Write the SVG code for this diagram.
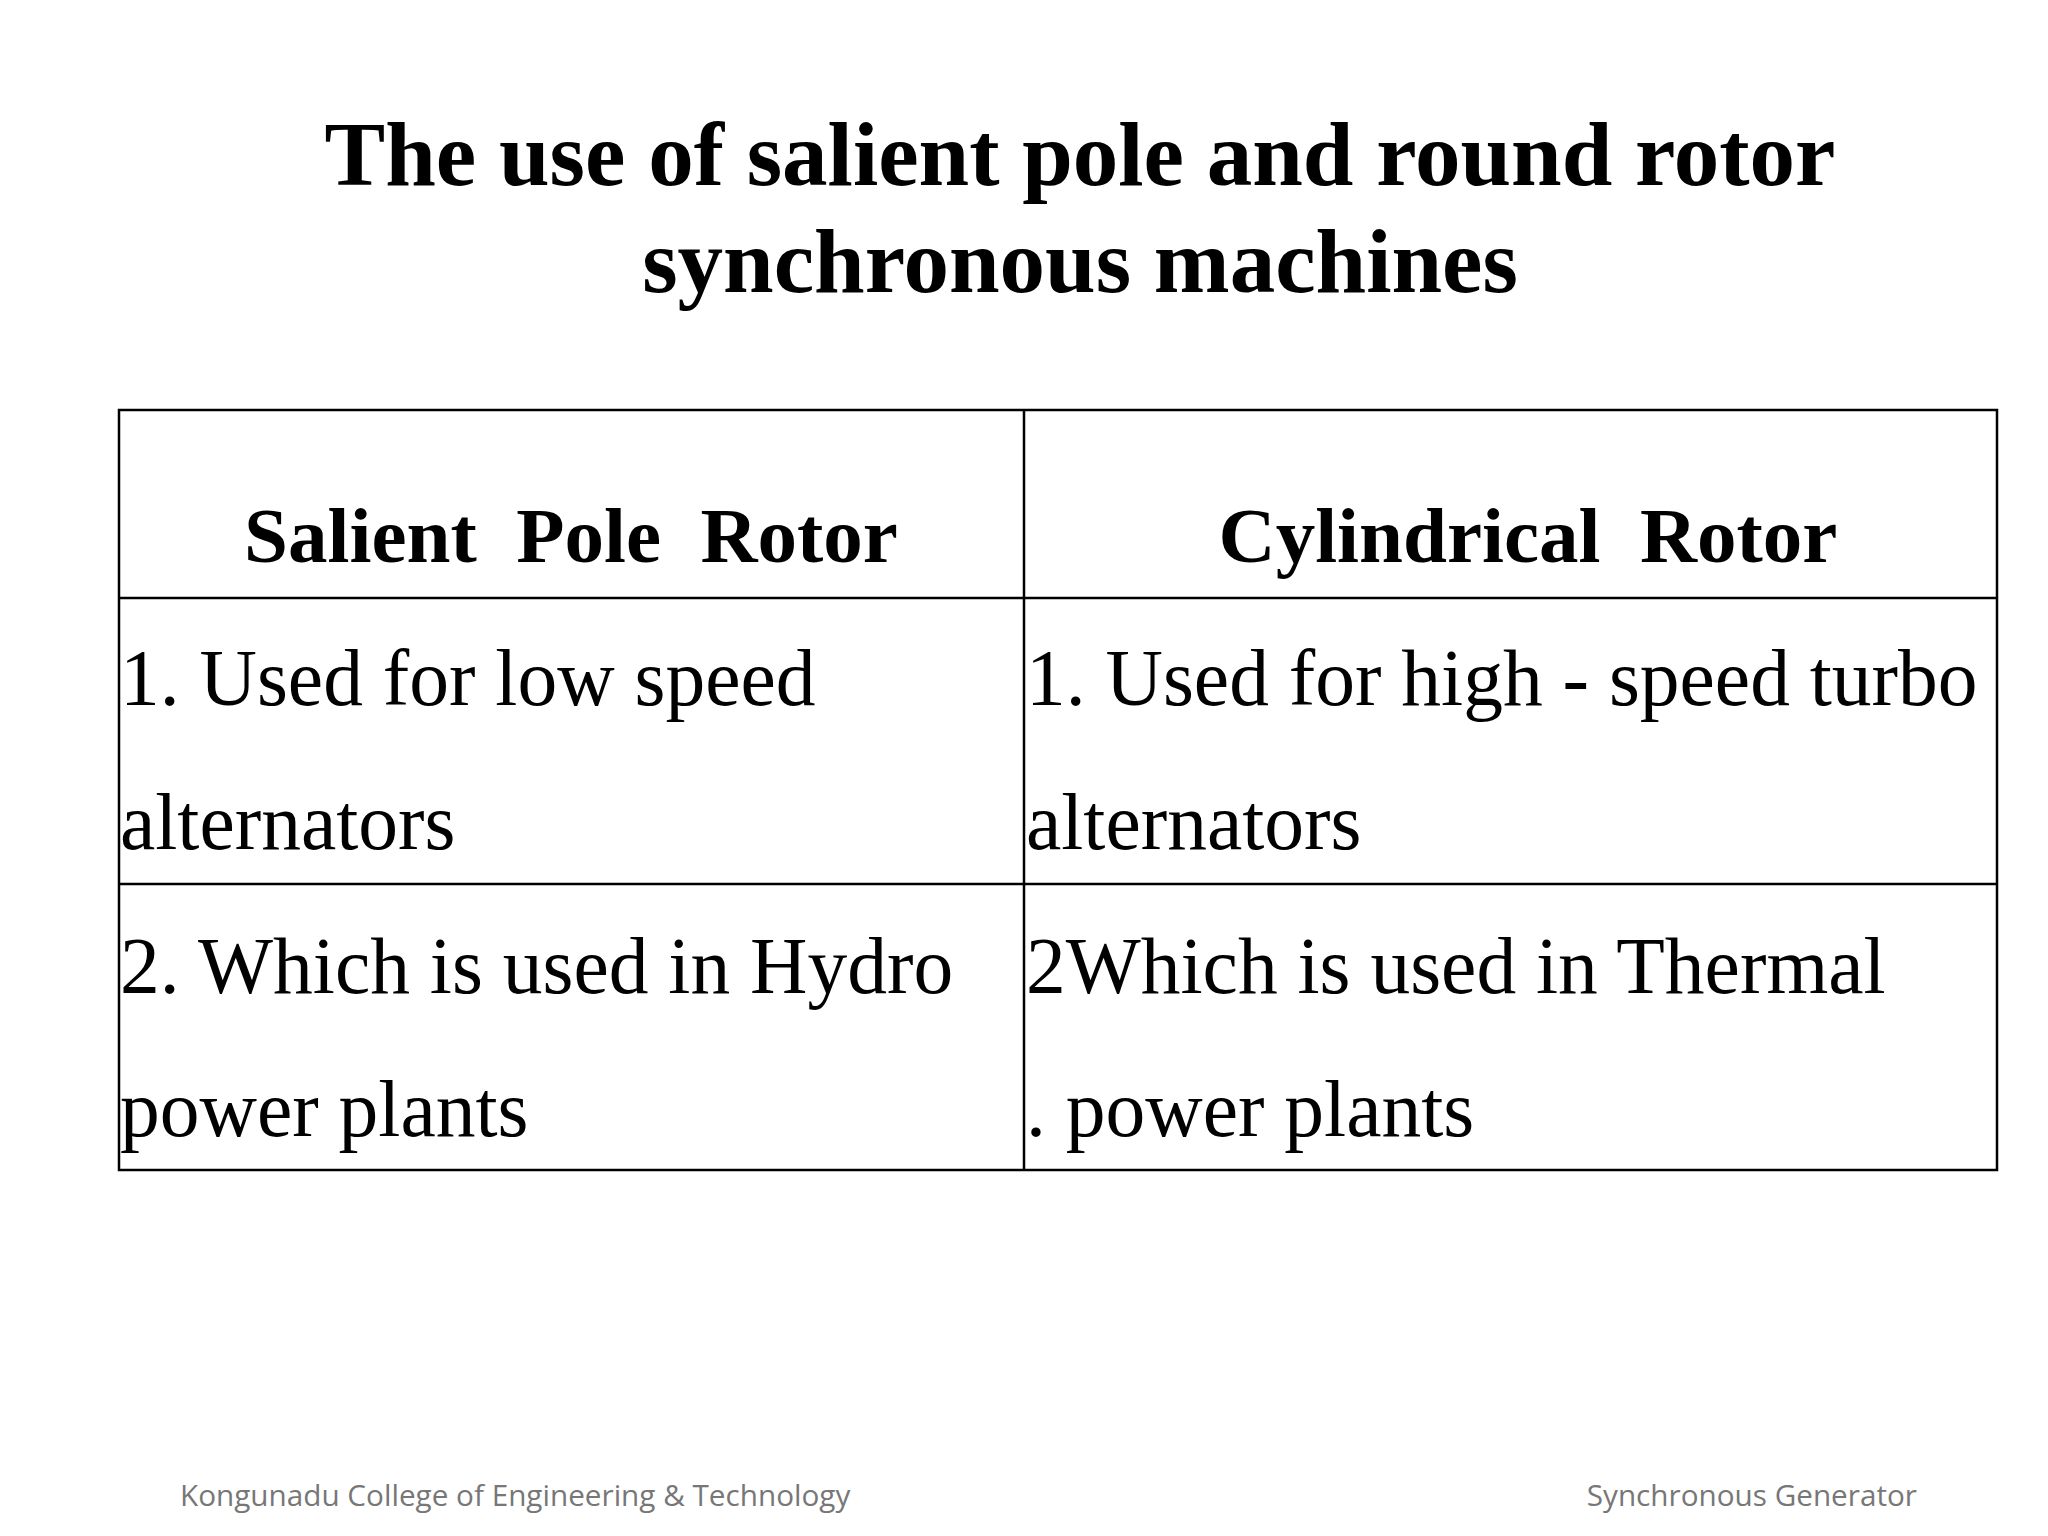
<svg xmlns="http://www.w3.org/2000/svg" width="2048" height="1536" viewBox="0 0 2048 1536">
<style>
.t{font-family:"Liberation Serif",serif;fill:#000}
.h{font-weight:bold;text-anchor:middle}
.c{font-size:79.5px}
.f{font-family:"Open Sans","Liberation Sans",sans-serif;font-size:29.7px;fill:#777}
line{stroke:#000;stroke-width:2.5}
</style>
<rect width="2048" height="1536" fill="#fff"/>
<g id="title">
<text class="t h" x="1080" y="185" font-size="91">The use of salient pole and round rotor</text>
<text class="t h" x="1080" y="292" font-size="91">synchronous machines</text>
</g>
<g id="table">
<rect x="119" y="410" width="1878" height="760" fill="none" stroke="#000" stroke-width="2.5"/>
<line x1="1024" y1="410" x2="1024" y2="1170"/>
<line x1="119" y1="598" x2="1997" y2="598"/>
<line x1="119" y1="884" x2="1997" y2="884"/>
<text class="t h" x="571" y="562" font-size="79" xml:space="preserve">Salient  Pole  Rotor</text>
<text class="t h" x="1528" y="562" font-size="79" xml:space="preserve">Cylindrical  Rotor</text>
<text class="t c" x="120" y="705">1. Used for low speed</text>
<text class="t c" x="120" y="849">alternators</text>
<text class="t c" x="120" y="993">2. Which is used in Hydro</text>
<text class="t c" x="120" y="1136">power plants</text>
<text class="t c" x="1026" y="705">1. Used for high - speed turbo</text>
<text class="t c" x="1026" y="849">alternators</text>
<text class="t c" x="1026" y="993">2Which is used in Thermal</text>
<text class="t c" x="1026" y="1136">. power plants</text>
</g>
<g id="footer">
<text class="f" x="180" y="1506">Kongunadu College of Engineering &amp; Technology</text>
<text class="f" x="1917" y="1506" text-anchor="end">Synchronous Generator</text>
</g>
</svg>
